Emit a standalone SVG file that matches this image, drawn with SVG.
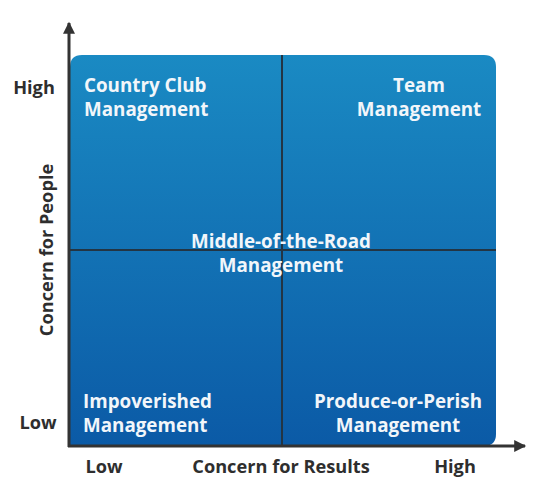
<svg xmlns="http://www.w3.org/2000/svg" width="550" height="501" viewBox="0 0 550 501">
<defs>
<linearGradient id="bg" x1="0" y1="0" x2="0" y2="1">
<stop offset="0" stop-color="#1a8ac3"/>
<stop offset="1" stop-color="#0b5aa6"/>
</linearGradient>
<marker id="arr" viewBox="0 0 10 10" refX="9" refY="5" markerWidth="4.5" markerHeight="4" orient="auto" markerUnits="strokeWidth">
<path d="M0,0 L10,5 L0,10 Z" fill="#333"/>
</marker>
<style>
.q{font-family:"Open Sans","Noto Sans",sans-serif;font-weight:bold;font-size:18.8px;fill:#f2f6fa}
.ax{font-family:"Open Sans","Noto Sans",sans-serif;font-weight:bold;font-size:18.2px;fill:#2e2e2e}
.div{stroke:#233544;stroke-width:2}
.axis{stroke:#333;stroke-width:3;fill:none}
</style>
</defs>
<rect width="550" height="501" fill="#fff"/>
<g id="grid">
<path d="M70,446 V67 Q70,55 82,55 H484 Q496,55 496,67 V434 Q496,446 484,446 Z" fill="url(#bg)"/>
<line class="div" x1="282" y1="55" x2="282" y2="446"/>
<line class="div" x1="70" y1="250" x2="496" y2="250"/>
</g>
<g id="connectors">
<line class="axis" x1="69" y1="447" x2="69" y2="23" marker-end="url(#arr)"/>
<line class="axis" x1="68" y1="446" x2="525" y2="446" marker-end="url(#arr)"/>
</g>
<g id="country-club">
<text class="q" x="84" y="92">Country Club</text>
<text class="q" x="84" y="116">Management</text>
</g>
<g id="team">
<text class="q" x="419" y="92" text-anchor="middle">Team</text>
<text class="q" x="419" y="116" text-anchor="middle">Management</text>
</g>
<g id="middle">
<text class="q" x="281" y="248" text-anchor="middle">Middle-of-the-Road</text>
<text class="q" x="281" y="272" text-anchor="middle">Management</text>
</g>
<g id="impoverished">
<text class="q" x="83" y="408">Impoverished</text>
<text class="q" x="83" y="432">Management</text>
</g>
<g id="produce">
<text class="q" x="398" y="408" text-anchor="middle">Produce-or-Perish</text>
<text class="q" x="398" y="432" text-anchor="middle">Management</text>
</g>
<g id="labels">
<text class="ax" x="34" y="94" text-anchor="middle">High</text>
<text class="ax" x="38" y="429" text-anchor="middle">Low</text>
<text class="ax" x="104" y="473" text-anchor="middle">Low</text>
<text class="ax" x="281" y="473" text-anchor="middle">Concern for Results</text>
<text class="ax" x="455" y="473" text-anchor="middle">High</text>
<text class="ax" transform="translate(53,250) rotate(-90)" text-anchor="middle">Concern for People</text>
</g>
</svg>
